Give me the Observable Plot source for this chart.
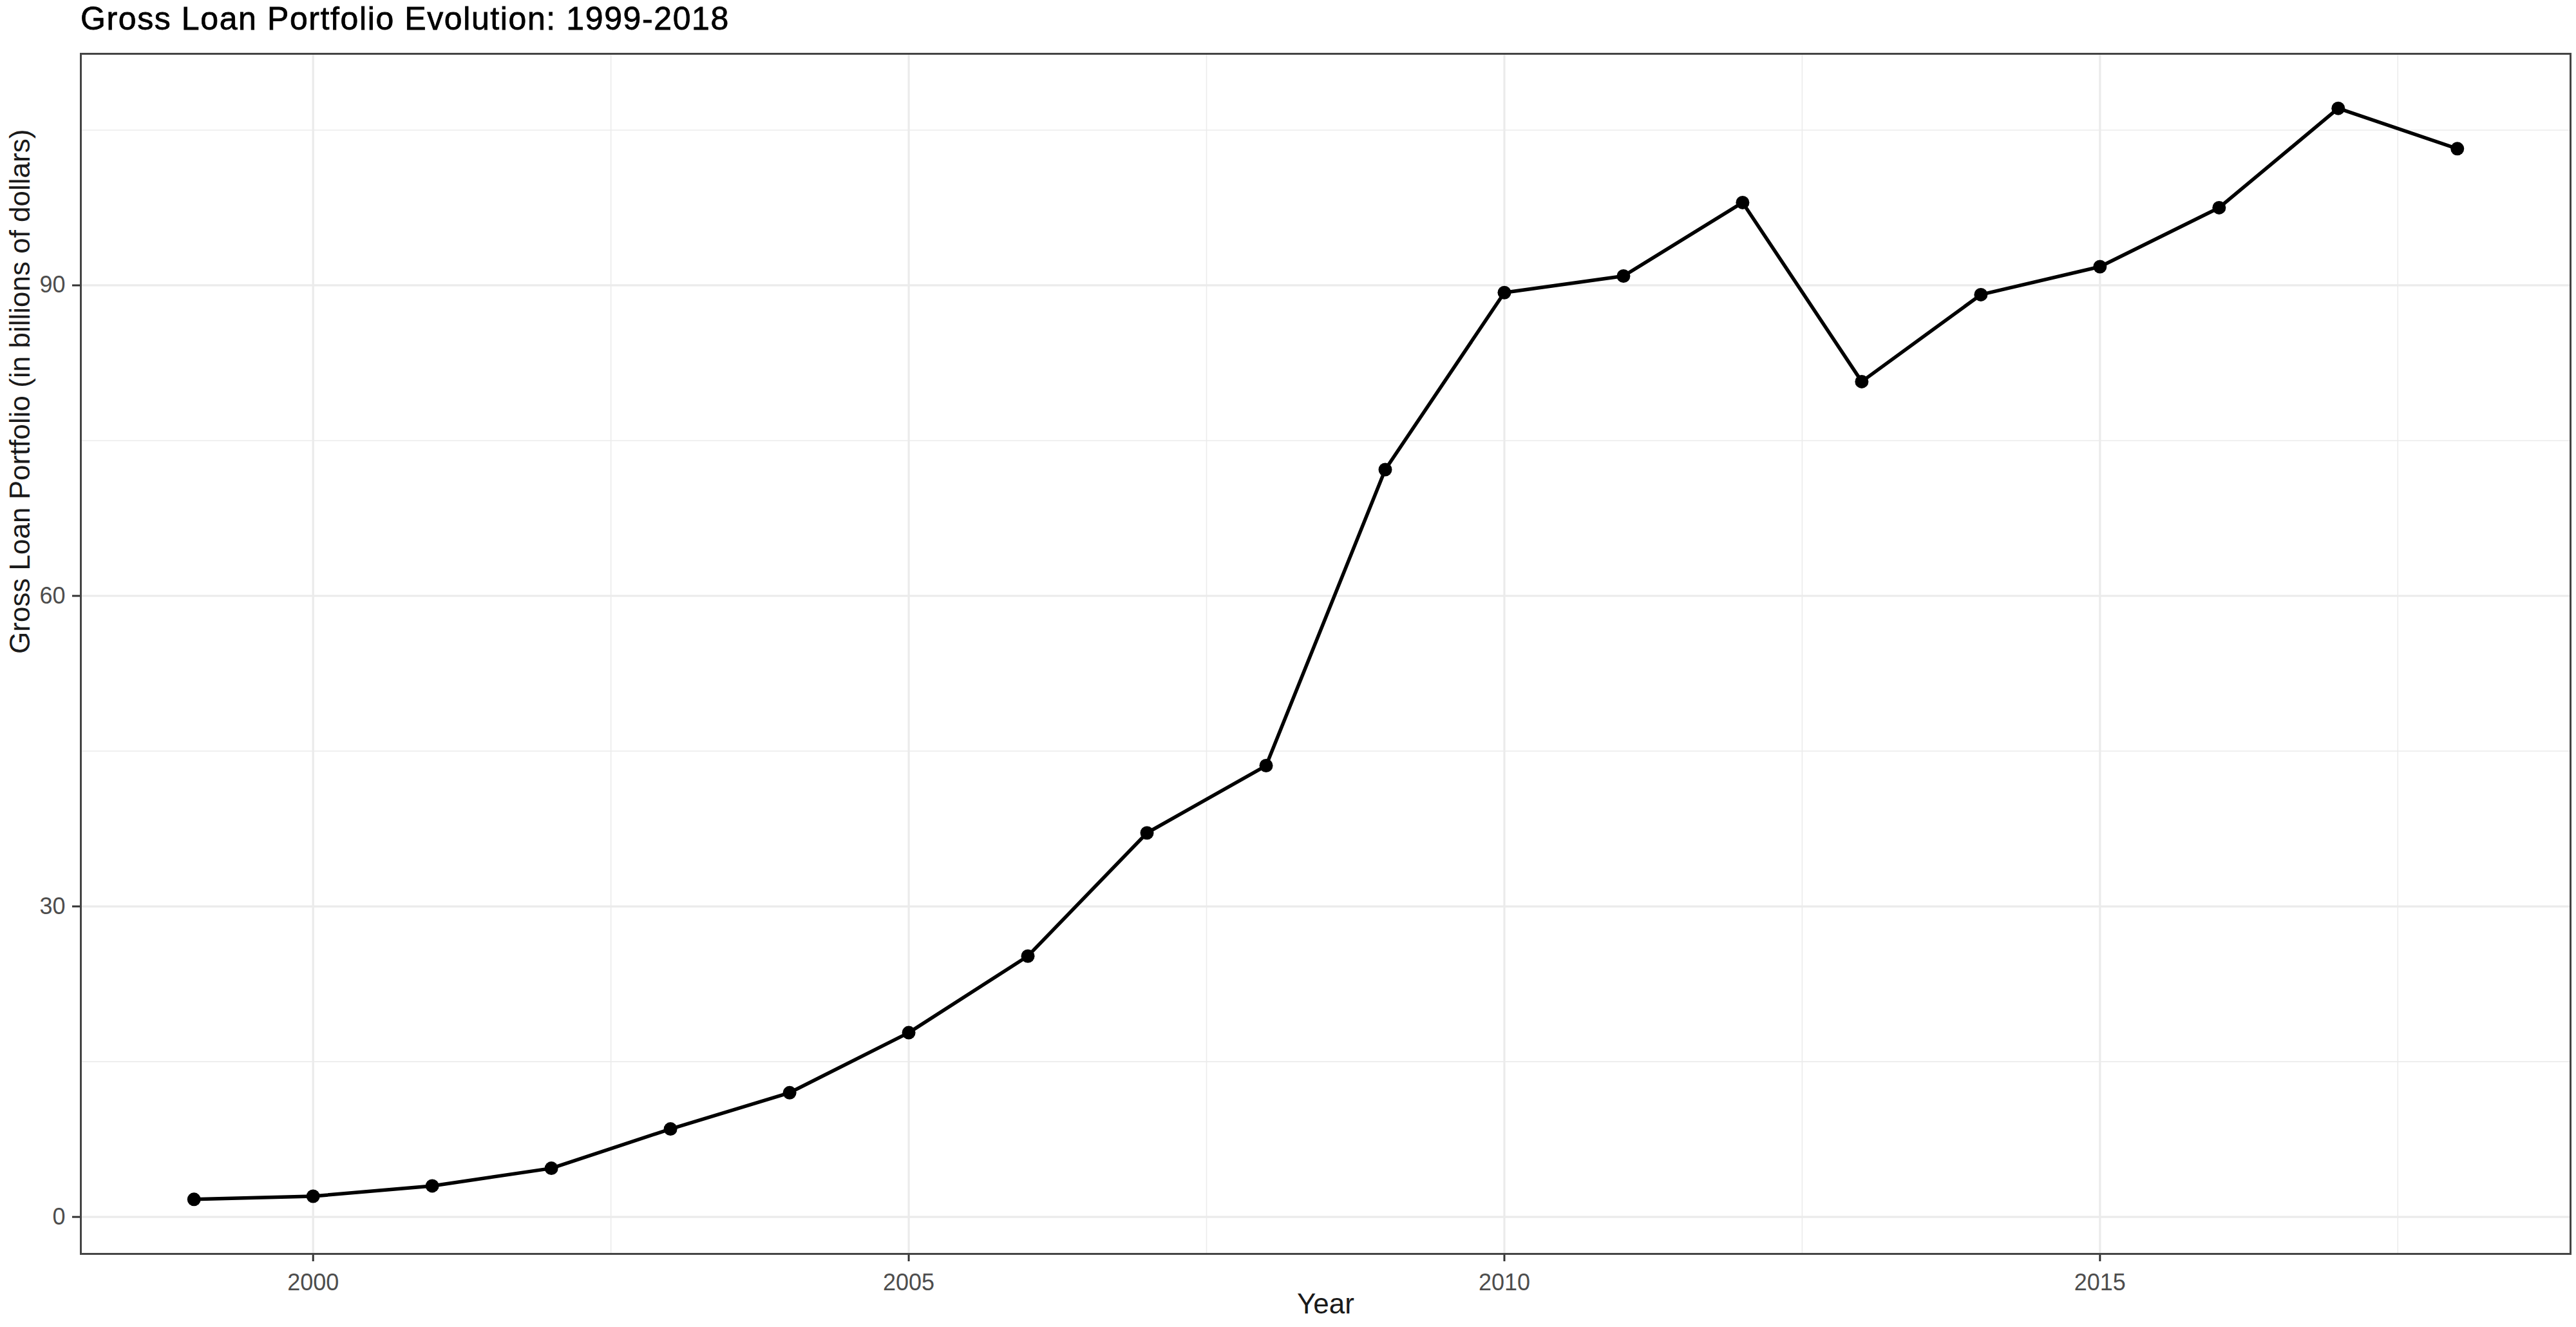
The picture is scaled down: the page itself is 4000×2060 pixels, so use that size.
<!DOCTYPE html>
<html>
<head>
<meta charset="utf-8">
<script src="https://cdn.jsdelivr.net/npm/d3@7"></script>
<script src="https://cdn.jsdelivr.net/npm/@observablehq/plot@0.6"></script>
<style>
  html, body { margin: 0; padding: 0; background: #ffffff; }
  #wrap { position: relative; width: 4000px; height: 2060px; font-family: "Liberation Sans", Arial, sans-serif; }
  #title { position: absolute; left: 125px; top: 4px; font-size: 50px; line-height: 50px; letter-spacing: 1.6px; color: #000000; white-space: nowrap; -webkit-text-stroke: 0.8px #000000; }
  #chart { position: absolute; left: 0; top: 0; }
</style>
</head>
<body>
<div id="wrap">
  <div id="chart"></div>
  <div id="title">Gross Loan Portfolio Evolution: 1999-2018</div>
</div>
<script>
const years = [1999, 2000, 2001, 2002, 2003, 2004, 2005, 2006, 2007, 2008, 2009, 2010, 2011, 2012, 2013, 2014, 2015, 2016, 2017, 2018];
const loans = [1.7, 2.0, 3.0, 4.7, 8.5, 12.0, 17.8, 25.2, 37.1, 43.6, 72.2, 89.3, 90.9, 98.0, 80.7, 89.1, 91.8, 97.5, 107.1, 103.2];

const xMajor = [2000, 2005, 2010, 2015];
const xMinor = [2002.5, 2007.5, 2012.5, 2017.5];
const yMajor = [0, 30, 60, 90];
const yMinor = [15, 45, 75, 105];

const xLabel = "Year";
const yLabel = "Gross Loan Portfolio (in billions of dollars)";

const data = years.map((year, i) => ({year, value: loans[i]}));

// ggplot-style 5% expansion
const expand = (lo, hi) => { const d = (hi - lo) * 0.05; return [lo - d, hi + d]; };
const xDomain = expand(d3.min(years), d3.max(years));
const yDomain = expand(d3.min(loans), d3.max(loans));

const plot = Plot.plot({
  width: 4000,
  height: 2060,
  marginTop: 83,
  marginBottom: 114,
  marginLeft: 125,
  marginRight: 9,
  style: { fontFamily: '"Liberation Sans", Arial, sans-serif', background: "#ffffff", overflow: "visible" },
  x: { domain: xDomain, label: null },
  y: { domain: yDomain, label: null },
  marks: [
    Plot.ruleY(yMinor, { stroke: "#ebebeb", strokeWidth: 1.6 }),
    Plot.ruleX(xMinor, { stroke: "#ebebeb", strokeWidth: 1.6 }),
    Plot.ruleY(yMajor, { stroke: "#ebebeb", strokeWidth: 3.2 }),
    Plot.ruleX(xMajor, { stroke: "#ebebeb", strokeWidth: 3.2 }),
    Plot.axisX({ ticks: xMajor, tickSize: 12, tickPadding: 19, tickFormat: d => `${d}`, fontSize: 36, stroke: "#333333", fill: "#4d4d4d", strokeWidth: 3, label: null }),
    Plot.axisY({ ticks: yMajor, tickSize: 13, tickPadding: 11, tickFormat: d => `${d}`, fontSize: 36, stroke: "#333333", fill: "#4d4d4d", strokeWidth: 3, label: null }),
    Plot.line(data, { x: "year", y: "value", stroke: "#000000", strokeWidth: 5.5 }),
    Plot.dot(data, { x: "year", y: "value", r: 10.5, fill: "#000000", stroke: "none" }),
    Plot.frame({ stroke: "#444444", strokeWidth: 3 }),
    Plot.text([xLabel], { frameAnchor: "bottom", text: d => d, dy: 92, fontSize: 44, fill: "#1a1a1a" }),
    Plot.text([yLabel], { frameAnchor: "left", text: d => d, rotate: -90, dx: -94, fontSize: 44, fill: "#1a1a1a" })
  ]
});
document.getElementById("chart").appendChild(plot);
</script>
</body>
</html>
